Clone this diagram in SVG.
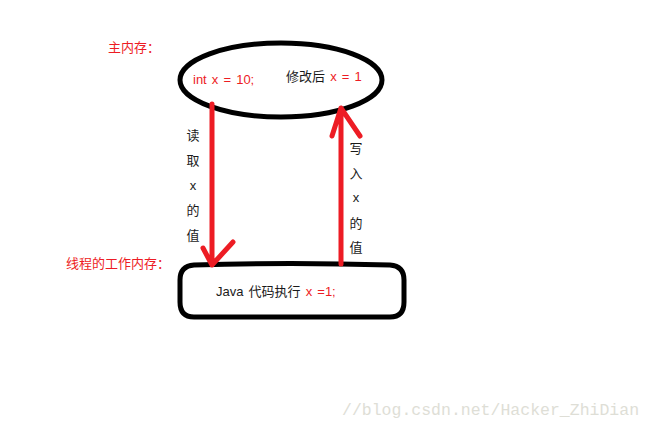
<svg xmlns="http://www.w3.org/2000/svg" width="652" height="432" viewBox="0 0 652 432">
<style>
text{font-family:"Liberation Sans","Noto Sans CJK SC",sans-serif;font-size:13px;fill:#1a1a1a}
.r{fill:#ED1C24}
.w{word-spacing:1.5px}
.shape{fill:none;stroke:#000;stroke-width:5}
.arr{fill:none;stroke:#ED1C24;stroke-width:5;stroke-linecap:round;stroke-linejoin:round}
.v{text-anchor:middle}
</style>
<rect width="652" height="432" fill="#fff"/>
<text class="r" x="108" y="52">主内存：</text>
<text class="r" x="66" y="268">线程的工作内存：</text>
<g id="main-memory">
<ellipse class="shape" cx="281" cy="80" rx="101" ry="37"/>
<text class="w" x="193" y="84"><tspan class="r">int x = 10;</tspan></text>
<text class="w" x="286" y="81">修改后 <tspan class="r">x = 1</tspan></text>
</g>
<g id="work-memory">
<path class="shape" d="M194,265 Q290,262 390,265 Q404,266 404,280 L404,302 Q404,317 390,317 L194,317 Q180,317 180,302 L180,280 Q180,266 194,265 Z"/>
<text class="w" x="216" y="296">Java 代码执行 <tspan class="r">x =1;</tspan></text>
</g>
<g id="connectors">
<path class="arr" d="M212,104 L212,265 M203,248 L212,265 L233,242"/>
<path class="arr" d="M341,264 L341,108 M332,136 L341,108 L360,136"/>
</g>
<g id="labels">
<text class="v" x="193" y="140">读</text>
<text class="v" x="193" y="165">取</text>
<text class="v" x="193" y="190">x</text>
<text class="v" x="193" y="215">的</text>
<text class="v" x="193" y="240">值</text>
<text class="v" x="356" y="153">写</text>
<text class="v" x="356" y="178">入</text>
<text class="v" x="356" y="202">x</text>
<text class="v" x="356" y="228">的</text>
<text class="v" x="356" y="252">值</text>
</g>
<text x="342" y="415" style="font-family:'Liberation Mono',monospace;font-size:16.5px;fill:#deded6">//blog.csdn.net/Hacker_ZhiDian</text>
</svg>
